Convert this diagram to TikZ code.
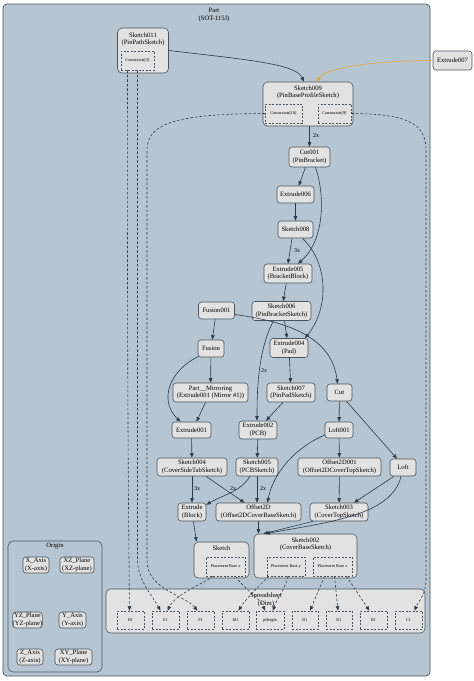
\documentclass[tikz,border=0pt]{standalone}
\usepackage{fontspec}
\setmainfont{Liberation Serif}
\usetikzlibrary{arrows.meta}
\definecolor{partbg}{RGB}{181,197,209}
\definecolor{nodebg}{RGB}{226,226,226}
\definecolor{nodeln}{RGB}{75,85,95}
\definecolor{edgeln}{RGB}{45,60,75}
\definecolor{orangeln}{RGB}{235,165,60}
\tikzset{
 nd/.style={draw=nodeln, fill=nodebg, rounded corners=3pt, line width=0.6pt, inner sep=0pt, align=center, font=\fontsize{6.6}{7.8}\selectfont},
 clbox/.style={draw=nodeln, fill=nodebg, rounded corners=4.5pt, line width=0.6pt, inner sep=0pt},
 dbox/.style={draw=nodeln, dash pattern=on 2pt off 1.5pt, line width=0.5pt, inner sep=0pt, font=\fontsize{4.2}{4.6}\selectfont},
 ttl/.style={inner sep=0pt, align=center, font=\fontsize{6.6}{7.8}\selectfont},
 ed/.style={draw=edgeln, line width=0.6pt, -{Triangle[length=4.5pt,width=3.5pt]}},
 ded/.style={ed, dash pattern=on 2.5pt off 2pt},
 lbl/.style={font=\fontsize{6}{6.5}\selectfont, inner sep=0pt, text=black}
}
\begin{document}
\begin{tikzpicture}[x=1pt,y=-1pt]
\useasboundingbox (0,0) rectangle (474,681);
% clusters
\node[draw=nodeln, fill=partbg, rounded corners=4pt, line width=0.7pt, minimum width=427pt, minimum height=672pt, inner sep=0pt] (part) at (216.5,340) {};
\node[ttl] (parttitle) at (214,15) {Part\\(SOT-115J)};
\node[draw=nodeln, fill=partbg, rounded corners=5pt, line width=0.6pt, minimum width=94pt, minimum height=131pt, inner sep=0pt] (origin) at (55,606.5) {};
\node[ttl] (origintitle) at (55,546) {Origin};
\node[nd, minimum width=39pt, minimum height=19pt] (ext007) at (452.5,60.5) {Extrude007};
% Sketch011
\node[clbox, minimum width=51pt, minimum height=45pt] (s011) at (143,50.5) {};
\node[ttl] (s011t) at (143,39.5) {Sketch011\\(PinPathSketch)};
\node[dbox, minimum width=33pt, minimum height=19pt] (s011c) at (137.5,60.5) {Constraints[3]};
% Sketch009
\node[clbox, minimum width=90pt, minimum height=44pt] (s009) at (308,104) {};
\node[ttl] (s009t) at (308,92.5) {Sketch009\\(PinBaseProfileSketch)};
\node[dbox, minimum width=37pt, minimum height=19pt] (s009c10) at (283.5,113.5) {Constraints[10]};
\node[dbox, minimum width=33pt, minimum height=19pt] (s009c9) at (334.5,113.5) {Constraints[9]};
% feature nodes
\node[nd, minimum width=41pt, minimum height=20pt] (cut001) at (309.5,157) {Cut001\\(PinBracket)};
\node[nd, minimum width=37pt, minimum height=17pt] (ext006) at (295.5,194.5) {Extrude006};
\node[nd, minimum width=35pt, minimum height=17pt] (s008) at (295.5,229.5) {Sketch008};
\node[nd, minimum width=48pt, minimum height=19pt] (ext005) at (288,273.5) {Extrude005\\(BracketBlock)};
\node[nd, minimum width=59pt, minimum height=19pt] (s006) at (281.5,311) {Sketch006\\(PinBracketSketch)};
\node[nd, minimum width=36pt, minimum height=17pt] (fus001) at (216.5,310.5) {Fusion001};
\node[nd, minimum width=26pt, minimum height=17pt] (fusion) at (211,348.5) {Fusion};
\node[nd, minimum width=38pt, minimum height=19pt] (ext004) at (289,348) {Extrude004\\(Pad)};
\node[nd, minimum width=75pt, minimum height=19pt] (mirror) at (210.5,392.5) {Part\_\_Mirroring\\(Extrude001 (Mirror \#1))};
\node[nd, minimum width=48pt, minimum height=19pt] (s007) at (291,392.5) {Sketch007\\(PinPadSketch)};
\node[nd, minimum width=25pt, minimum height=17pt] (cut) at (339.5,392.5) {Cut};
\node[nd, minimum width=39pt, minimum height=16pt] (ext001) at (191.5,430) {Extrude001};
\node[nd, minimum width=38pt, minimum height=18pt] (ext002) at (258,430) {Extrude002\\(PCB)};
\node[nd, minimum width=28pt, minimum height=16pt] (loft001) at (339,430) {Loft001};
\node[nd, minimum width=70pt, minimum height=18pt] (s004) at (192,467) {Sketch004\\(CoverSideTabSketch)};
\node[nd, minimum width=42pt, minimum height=18pt] (s005) at (257,467) {Sketch005\\(PCBSketch)};
\node[nd, minimum width=83pt, minimum height=18pt] (o2d001) at (339.5,467) {Offset2D001\\(Offset2DCoverTopSketch)};
\node[nd, minimum width=26pt, minimum height=17pt] (loft) at (403,467.5) {Loft};
\node[nd, minimum width=28pt, minimum height=18pt] (extrude) at (192,512) {Extrude\\(Block)};
\node[nd, minimum width=85pt, minimum height=18pt] (o2d) at (258.5,512) {Offset2D\\(Offset2DCoverBaseSketch)};
\node[nd, minimum width=58pt, minimum height=18pt] (s003) at (339,512) {Sketch003\\(CoverTopSketch)};
% Sketch cluster
\node[clbox, minimum width=55pt, minimum height=36pt] (sketch) at (221.5,560) {};
\node[ttl] (sketcht) at (221.5,548) {Sketch};
\node[dbox, minimum width=39pt, minimum height=19pt] (sketchpb) at (225.5,566.5) {Placement Base x};
% Sketch002 cluster
\node[clbox, minimum width=103pt, minimum height=44pt] (s002) at (305.5,556) {};
\node[ttl] (s002t) at (305.5,544.5) {Sketch002\\(CoverBaseSketch)};
\node[dbox, minimum width=38pt, minimum height=19pt] (s002pby) at (286,566.5) {Placement Base y};
\node[dbox, minimum width=39pt, minimum height=19pt] (s002pbx) at (332.5,566.5) {Placement Base x};
% Spreadsheet
\node[clbox, minimum width=319pt, minimum height=44pt] (sheet) at (265.5,611) {};
\node[ttl] (sheett) at (266,600) {Spreadsheet\\(Dim)};
\node[dbox, minimum width=27pt, minimum height=18pt] (cell1) at (130.5,620) {H1};
\node[dbox, minimum width=27pt, minimum height=18pt] (cell2) at (165.5,620) {E1};
\node[dbox, minimum width=27pt, minimum height=18pt] (cell3) at (200.5,620) {P1};
\node[dbox, minimum width=27pt, minimum height=18pt] (cell4) at (235.5,620) {M1};
\node[dbox, minimum width=28pt, minimum height=18pt] (cell5) at (270,620) {pHeight};
\node[dbox, minimum width=26pt, minimum height=18pt] (cell6) at (305,620) {D1};
\node[dbox, minimum width=26pt, minimum height=18pt] (cell7) at (339,620) {H1};
\node[dbox, minimum width=27pt, minimum height=18pt] (cell8) at (373.5,620) {B1};
\node[dbox, minimum width=27pt, minimum height=18pt] (cell9) at (408.5,620) {C1};
% Origin nodes
\node[nd, minimum width=26pt, minimum height=16pt] (xaxis) at (36,565) {X\_Axis\\(X-axis)};
\node[nd, minimum width=34pt, minimum height=16pt] (xzplane) at (77,565) {XZ\_Plane\\(XZ-plane)};
\node[nd, minimum width=27pt, minimum height=16pt] (yzplane) at (27.5,620) {YZ\_Plane\\(YZ-plane)};
\node[nd, minimum width=27pt, minimum height=16pt] (yaxis) at (72.5,620) {Y\_Axis\\(Y-axis)};
\node[nd, minimum width=26pt, minimum height=16pt] (zaxis) at (30,657) {Z\_Axis\\(Z-axis)};
\node[nd, minimum width=37pt, minimum height=16pt] (xyplane) at (73.5,657) {XY\_Plane\\(XY-plane)};
% solid edges
\draw[ed] (s011.east) .. controls (250,60) and (296,64) .. ([xshift=-4pt]s009.north);
\draw[ed, draw=orangeln] (ext007.west) .. controls (370,61) and (325,68) .. ([xshift=9pt]s009.north);
\draw[ed] (cut001.north |- s009.south) -- (cut001.north);
\node[lbl] (l1) at (316,136) {2x};
\draw[ed] ([xshift=-4pt]cut001.south) -- (ext006);
\draw[ed] ([xshift=6pt]cut001.south) .. controls (325,195) and (325,240) .. ([xshift=10pt]ext005.north);
\draw[ed] (ext006) -- (s008);
\draw[ed] ([xshift=-3.5pt]s008.south) -- (ext005.north);
\node[lbl] (l2) at (297,251) {3x};
\draw[ed] ([xshift=7pt]s008.south) .. controls (330,265) and (328,310) .. ([xshift=16pt]ext004.north);
\draw[ed] (ext005) -- (s006);
\draw[ed] ([xshift=3pt]s006.south) -- ([xshift=-2pt]ext004.north);
\draw[ed] ([xshift=-8pt]s006.south) .. controls (258,350) and (257,390) .. ([xshift=-1pt]ext002.north);
\node[lbl] (l3) at (264,371) {2x};
\draw[ed] (fus001) -- (fusion);
\draw[ed] ([yshift=-4pt]fus001.east) .. controls (290,322) and (332,338) .. ([xshift=-2pt]cut.north);
\draw[ed] (fusion) -- (mirror);
\draw[ed] ([xshift=1pt,yshift=1pt]fusion.south west) .. controls (170,370) and (158,400) .. ([xshift=-11pt]ext001.north);
\draw[ed] ([xshift=-5pt]mirror.south) -- ([xshift=5pt]ext001.north);
\draw[ed] (ext004) -- (s007);
\draw[ed] ([xshift=-8pt]s007.south) -- ([xshift=8pt]ext002.north);
\draw[ed] (cut) -- (loft001);
\draw[ed] ([xshift=7pt]cut.south) -- ([xshift=-6pt]loft.north);
\draw[ed] (ext001) -- (s004);
\draw[ed] (ext002) -- (s005);
\draw[ed] (loft001) -- (o2d001);
\draw[ed] ([yshift=-5pt]loft001.west) .. controls (290,450) and (272,478) .. ([xshift=9pt]o2d.north);
\draw[ed] (s004) -- (extrude);
\node[lbl] (l4) at (197,489) {3x};
\draw[ed] ([xshift=14pt]s004.south) -- ([xshift=-14pt]o2d.north);
\draw[ed] ([xshift=-7pt]s005.south) .. controls (240,492) and (225,494) .. ([yshift=-2pt]extrude.north east);
\node[lbl] (l5) at (233,489) {2x};
\draw[ed] (s005) -- (o2d.north -| s005);
\node[lbl] (l6) at (263,489) {2x};
\draw[ed] (o2d001) -- (s003);
\draw[ed] ([xshift=-9pt]loft.south) -- ([xshift=15pt]s003.north);
\draw[ed] ([xshift=-2pt]loft.south) .. controls (392,515) and (330,522) .. ([xshift=-40pt]s002.north);
\draw[ed] (o2d) -- (s002.north -| o2d);
\draw[ed] ([xshift=-26pt]s003.south) -- ([xshift=-42pt]s002.north);
\draw[ed] (extrude) -- ([xshift=-25pt]sketch.north);
% dashed edges
\draw[ded] ([xshift=-10pt]s011c.south) .. controls (127,400) and (129,560) .. ([xshift=-1pt]cell1.north);
\draw[ded] (s011c.south) -- (137.5,560) .. controls (137.5,580) and (152,595) .. ([xshift=-5pt]cell2.north);
\draw[ded] (s009c10.west) .. controls (180,114) and (147,122) .. (147,150) -- (147,560) .. controls (147,590) and (185,595) .. ([xshift=-3pt]cell3.north);
\draw[ded] (s009c9.east) .. controls (405,114) and (426,122) .. (426,150) -- (426,580) .. controls (426,595) and (418,602) .. ([xshift=6pt]cell9.north);
\draw[ded] ([xshift=-12pt]sketchpb.south) .. controls (200,585) and (175,595) .. ([xshift=2pt]cell2.north);
\draw[ded] ([xshift=10pt]sketchpb.south) .. controls (245,590) and (260,598) .. ([xshift=-5pt]cell5.north);
\draw[ded] ([xshift=2pt]s002pby.south west) .. controls (255,590) and (245,600) .. ([xshift=3pt]cell4.north);
\draw[ded] ([xshift=2pt]s002pby.south) .. controls (285,590) and (276,600) .. ([xshift=3pt]cell5.north);
\draw[ded] ([xshift=-8pt]s002pbx.south) -- ([xshift=5pt]cell6.north);
\draw[ded] ([xshift=2pt]s002pbx.south) -- ([xshift=-1pt]cell7.north);
\draw[ded] ([xshift=14pt]s002pbx.south) -- ([xshift=-4pt]cell8.north);
\end{tikzpicture}
\end{document}
